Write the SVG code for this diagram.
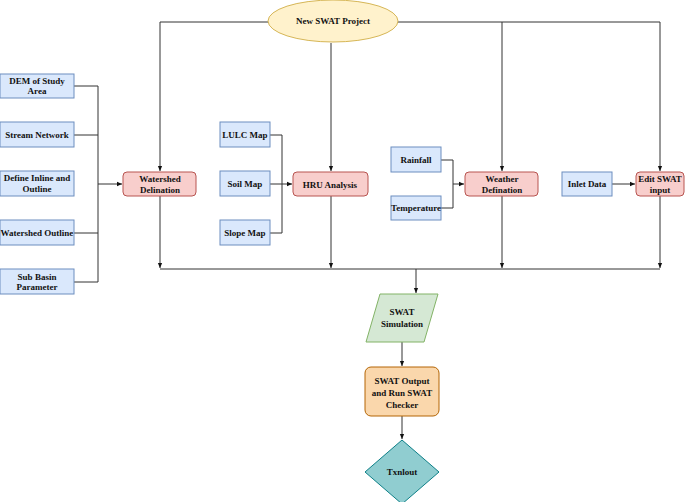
<svg xmlns="http://www.w3.org/2000/svg" width="685" height="502" viewBox="0 0 685 502">
<style>
.b{fill:#dae8fc;stroke:#6c8ebf;stroke-width:1}
.r{fill:#f8cecc;stroke:#b85450;stroke-width:1}
text{font-family:"Liberation Serif",serif;font-weight:bold;font-size:9px;fill:#111;text-anchor:middle}
.c path{fill:none;stroke:#333;stroke-width:1}
</style>
<defs><marker id="a" viewBox="0 0 8 8" refX="7" refY="4" markerWidth="6" markerHeight="6" orient="auto"><path d="M0,1 L7,4 L0,7 Z" fill="#111"/></marker></defs>
<rect width="685" height="502" fill="#fff"/>
<g class="c">
<path d="M74,86H98V282H74M74,135H98M74,233H98" />
<path d="M98,184H122" marker-end="url(#a)"/>
<path d="M270,135H282V233H270" />
<path d="M270,184H292" marker-end="url(#a)"/>
<path d="M441,160H453V208H441"/>
<path d="M453,184H464" marker-end="url(#a)"/>
<path d="M612,184H635" marker-end="url(#a)"/>
<path d="M268,22H160V171" marker-end="url(#a)"/>
<path d="M331,43V171" marker-end="url(#a)"/>
<path d="M398,22H660V171" marker-end="url(#a)"/>
<path d="M502,22V171" marker-end="url(#a)"/>
<path d="M160,269H660"/>
<path d="M160,196V268" marker-end="url(#a)"/>
<path d="M331,196V268" marker-end="url(#a)"/>
<path d="M502,196V268" marker-end="url(#a)"/>
<path d="M660,196V268" marker-end="url(#a)"/>
<path d="M416,269V293" marker-end="url(#a)"/>
<path d="M402,342V366" marker-end="url(#a)"/>
<path d="M402,416V439" marker-end="url(#a)"/>
</g>
<g id="project"><ellipse cx="333" cy="21" rx="65" ry="21" fill="#fff2cc" stroke="#d6b656"/><text x="333" y="24">New SWAT Project</text></g>
<g id="dem"><rect class="b" x="0" y="74" width="74" height="24"/><text x="37" y="84">DEM of Study</text><text x="37" y="94">Area</text></g>
<g id="stream"><rect class="b" x="0" y="122" width="74" height="25"/><text x="37" y="138">Stream Network</text></g>
<g id="define"><rect class="b" x="0" y="171" width="74" height="25"/><text x="37" y="181">Define Inline and</text><text x="37" y="192">Outline</text></g>
<g id="wsoutline"><rect class="b" x="0" y="220" width="74" height="25"/><text x="37" y="236">Watershed Outline</text></g>
<g id="subbasin"><rect class="b" x="0" y="269" width="74" height="25"/><text x="37" y="280">Sub Basin</text><text x="37" y="290">Parameter</text></g>
<g id="wsdel"><rect class="r" x="123" y="172" width="73" height="24" rx="4"/><text x="160" y="182">Watershed</text><text x="160" y="193">Delination</text></g>
<g id="lulc"><rect class="b" x="220" y="122" width="50" height="25"/><text x="245" y="138">LULC Map</text></g>
<g id="soil"><rect class="b" x="220" y="171" width="50" height="25"/><text x="245" y="187">Soil Map</text></g>
<g id="slope"><rect class="b" x="220" y="220" width="50" height="25"/><text x="245" y="236">Slope Map</text></g>
<g id="hru"><rect class="r" x="293" y="172" width="75" height="24" rx="4"/><text x="330" y="188">HRU Analysis</text></g>
<g id="rain"><rect class="b" x="391" y="147" width="50" height="25"/><text x="416" y="163">Rainfall</text></g>
<g id="temp"><rect class="b" x="391" y="196" width="50" height="24"/><text x="416" y="211">Temperature</text></g>
<g id="weather"><rect class="r" x="465" y="172" width="73" height="24" rx="4"/><text x="502" y="182">Weather</text><text x="502" y="193">Defination</text></g>
<g id="inlet"><rect class="b" x="562" y="172" width="50" height="24"/><text x="587" y="187">Inlet Data</text></g>
<g id="edit"><rect class="r" x="636" y="172" width="48" height="24" rx="4"/><text x="660" y="182">Edit SWAT</text><text x="660" y="193">input</text></g>
<g id="sim"><polygon points="380,294 438,294 424,342 366,342" fill="#d5e8d4" stroke="#82b366"/><text x="402" y="315">SWAT</text><text x="402" y="327">Simulation</text></g>
<g id="output"><rect x="365" y="367" width="74" height="49" rx="6" fill="#fad7ac" stroke="#b46504"/><text x="402" y="384">SWAT Output</text><text x="402" y="396">and Run SWAT</text><text x="402" y="408">Checker</text></g>
<g id="txn"><polygon points="402,440 439,472 402,504 365,472" fill="#90cdd0" stroke="#0e8088"/><text x="402" y="475">Txnlout</text></g>
</svg>
